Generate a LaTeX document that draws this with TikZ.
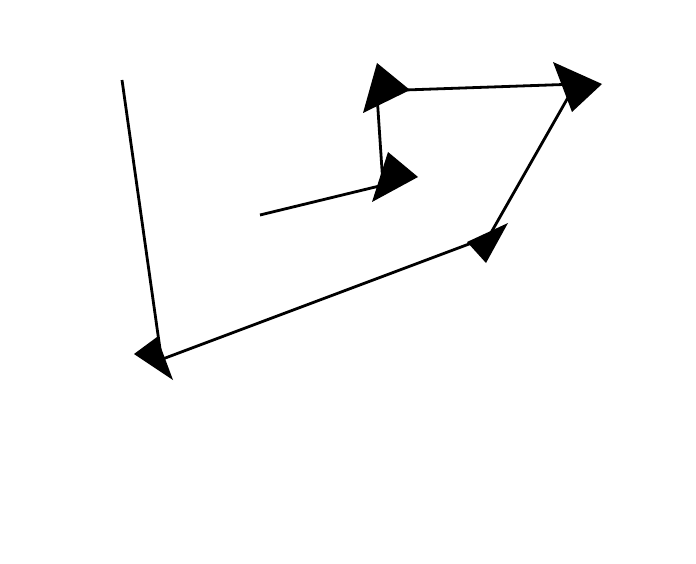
\documentclass[tikz,border=0pt]{standalone}
\begin{document}
\begin{tikzpicture}[x=1pt,y=-1pt,
  seg/.style={line width=2.8pt,line cap=butt},
  head/.style={fill=black,draw=none}]
\useasboundingbox (0,0) rectangle (696,564);
\coordinate (s) at (260,215);
\coordinate (p1) at (400,181);
\coordinate (p1b) at (383,185);
\coordinate (p2) at (377,95);
\coordinate (p2b) at (405,90);
\coordinate (p3) at (578,84);
\coordinate (p3b) at (570,94);
\coordinate (p4) at (488,238);
\coordinate (p4b) at (485,238);
\coordinate (p5) at (160,360);
\coordinate (p5b) at (161,356);
\coordinate (e) at (122,80);
\draw[seg] (s) -- (p1);
\draw[seg] (p1b) -- (p2);
\draw[seg] (p2b) -- (p3);
\draw[seg] (p3b) -- (p4);
\draw[seg] (p4b) -- (p5);
\draw[seg] (p5b) -- (e);
\fill[head] (388,152) -- (418,177) -- (372,202) -- cycle;
\fill[head] (377,63) -- (410,90) -- (363,113) -- cycle;
\fill[head] (553,62) -- (602,84) -- (572,112) -- cycle;
\fill[head] (467,242) -- (508,223) -- (486,263) -- cycle;
\fill[head] (134,354) -- (157,337) -- (173,380) -- cycle;
\end{tikzpicture}
\end{document}
